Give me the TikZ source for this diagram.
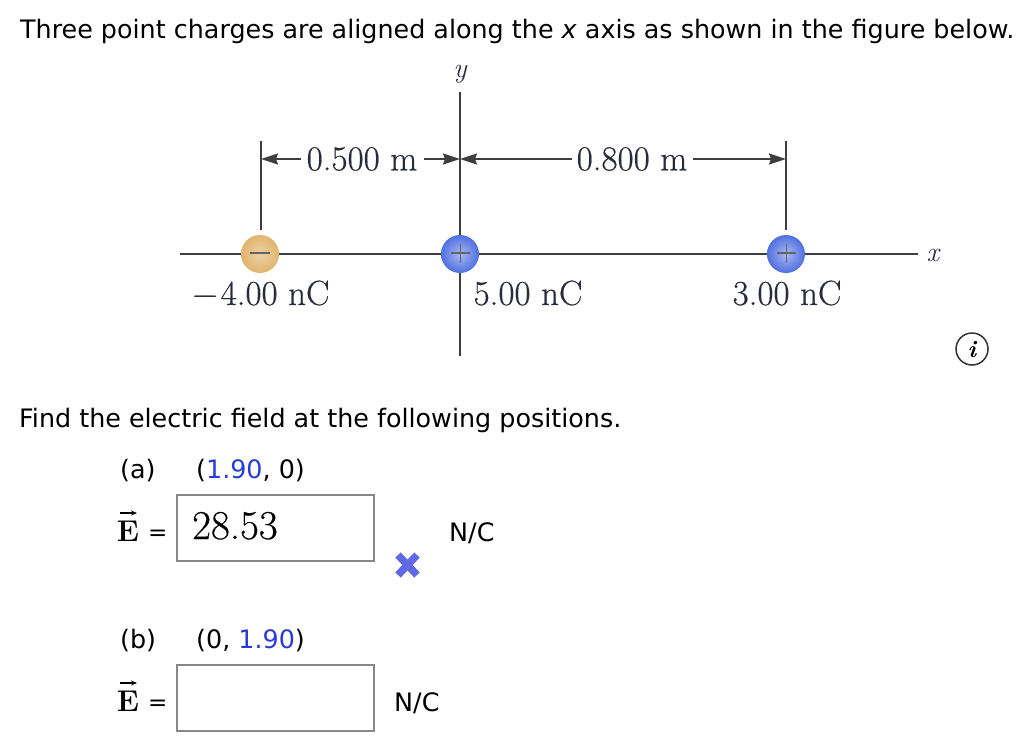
\documentclass[tikz,border=0pt]{standalone}
\usepackage{fontspec}
\usepackage{amsmath}
\setsansfont{DejaVu Sans}
\newfontfamily\figfont{Latin Modern Roman}[RawFeature={embolden=0.5}]
\newfontfamily\answerfont{Latin Modern Roman}[RawFeature={embolden=0.4}]
\usetikzlibrary{arrows.meta}
\definecolor{axisgray}{RGB}{62,62,64}
\definecolor{figtext}{RGB}{40,44,58}
\definecolor{numblue}{RGB}{40,60,215}
\definecolor{boxgray}{RGB}{135,135,135}
\definecolor{crossblue}{RGB}{95,105,225}
\definecolor{posblue}{RGB}{80,112,225}
\definecolor{negtan}{RGB}{224,180,110}
\tikzset{
  prose/.style={inner sep=0pt,anchor=base west,font=\sffamily\fontsize{25.4}{25.4}\selectfont},
  figlabel/.style={inner sep=0pt,text=figtext,font=\figfont\fontsize{35}{35}\selectfont},
  axislabel/.style={inner sep=0pt,text=figtext,font=\itshape\fontsize{28}{28}\selectfont},
  axisline/.style={axisgray,line width=2pt},
  dimline/.style={axisgray,line width=1.6pt},
  dimarrow/.style={dimline,-{Stealth[length=17pt,width=11pt,inset=2pt]}},
  signline/.style={axisgray!80,line width=1.2pt},
  answerbox/.style={draw=boxgray,line width=1.6pt,minimum width=197pt,minimum height=66pt,inner sep=0pt,outer sep=0pt,anchor=north west},
  boldletter/.style={inner sep=0pt,anchor=base,font=\bfseries\fontsize{30}{30}\selectfont},
  veclined/.style={black,line width=1.2pt,-{Stealth[length=6pt,width=5pt]}},
  poscharge/.style={circle,minimum size=38pt,inner sep=0pt,inner color=posblue!50!white,outer color=posblue},
  negcharge/.style={circle,minimum size=38pt,inner sep=0pt,inner color=negtan!60!white,outer color=negtan},
}
\begin{document}
\begin{tikzpicture}[x=1pt,y=-1pt]
\useasboundingbox (0,0) rectangle (1024,750);
% statement
\node[prose] (title) at (20,38.5) {Three point charges are aligned along the \textit{x} axis as shown in the figure below.};
% axes
\coordinate (xleft) at (180,254);
\coordinate (xright) at (918,254);
\coordinate (ytop) at (460,92);
\coordinate (ybot) at (460,356);
\draw[axisline] (xleft) -- (xright);
\draw[axisline] (ytop) -- (ybot);
\node[axislabel] (ylabel) at (460,74) {y};
\node[axislabel] (xlabel) at (933,255) {x};
% charges
\node[negcharge] (qa) at (260,254) {};
\node[poscharge] (qb) at (460,254) {};
\node[poscharge] (qc) at (786,254) {};
\draw[signline] (250,253) -- (270,253);
\draw[signline] (451,253) -- (470,253) (460.5,244) -- (460.5,263);
\draw[signline] (777,253) -- (796,253) (786.5,244) -- (786.5,263);
\node[figlabel] (la) at (261,293) {\textminus\hspace{3pt}4.00 nC};
\node[figlabel] (lb) at (528,293) {5.00 nC};
\node[figlabel] (lc) at (787,293) {3.00 nC};
% distances
\coordinate (ta) at (261,141);
\coordinate (ba) at (261,230);
\coordinate (tc) at (786,141);
\coordinate (bc) at (786,230);
\coordinate (da) at (261,159);
\coordinate (db) at (460,159);
\coordinate (dc) at (786,159);
\draw[dimline] (ta) -- (ba);
\draw[dimline] (tc) -- (bc);
\node[figlabel] (dista) at (362,159) {0.500 m};
\node[figlabel] (distb) at (632,159) {0.800 m};
\draw[dimarrow] (dista.west) ++(-6pt,0) -- (da);
\draw[dimarrow] (dista.east) ++(6pt,0) -- (db);
\draw[dimarrow] (distb.west) ++(-5pt,0) -- (db);
\draw[dimarrow] (distb.east) ++(5pt,0) -- (dc);
% info mark
\node[circle,draw=black!80,line width=1.5pt,minimum size=32pt,inner sep=0pt,font=\bfseries\itshape\fontsize{24}{24}\selectfont] (info) at (972,349) {i};
% questions
\node[prose] (find) at (19,427) {Find the electric field at the following positions.};
\node[prose] (parta) at (120,478) {(a)};
\node[prose] (posa) at (196,478) {(\textcolor{numblue}{1.90}, 0)};
\node[boldletter] (ea) at (128,541) {E};
\coordinate (eat) at (137,513);
\coordinate (eaf) at (120,513);
\draw[veclined] (eaf) -- (eat);
\node[prose,font=\sffamily\fontsize{23}{23}\selectfont] (eqa) at (148,540) {=};
\node[answerbox] (boxa) at (177,495) {};
\node[inner sep=0pt,anchor=base west,font=\answerfont\fontsize{41}{41}\selectfont] (vala) at (192,539) {28.53};
\node[prose] (unita) at (449,541) {N/C};
\coordinate (cra) at (398,555);
\coordinate (crb) at (417,575);
\coordinate (crc) at (417,555);
\coordinate (crd) at (398,575);
\draw[crossblue,line width=7.5pt] (cra) -- (crb) (crc) -- (crd);
\node[prose] (partb) at (120,648) {(b)};
\node[prose] (posb) at (196,648) {(0, \textcolor{numblue}{1.90})};
\node[boldletter] (eb) at (128,711) {E};
\coordinate (ebt) at (137,683);
\coordinate (ebf) at (120,683);
\draw[veclined] (ebf) -- (ebt);
\node[prose,font=\sffamily\fontsize{23}{23}\selectfont] (eqb) at (148,710) {=};
\node[answerbox] (boxb) at (177,665) {};
\node[prose] (unitb) at (394,711) {N/C};
\end{tikzpicture}
\end{document}
